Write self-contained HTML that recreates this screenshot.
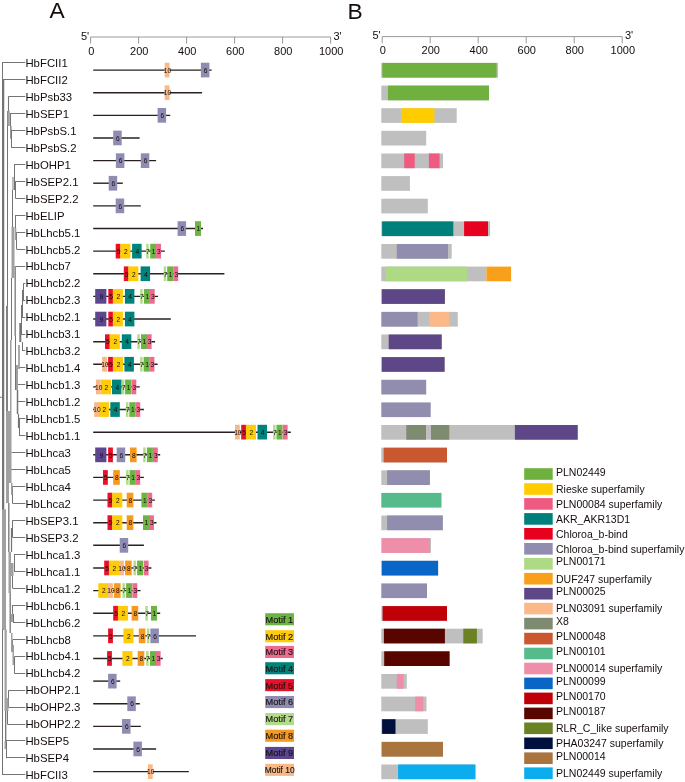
<!DOCTYPE html>
<html><head><meta charset="utf-8"><title>Figure</title>
<style>
html,body{margin:0;padding:0;background:#fff}
svg{display:block}
text{font-family:"Liberation Sans",Arial,sans-serif;fill:#150e0c}
.ax{font-size:11px}
.lb{font-size:11.8px}
.mn{font-size:7.5px;text-anchor:middle;fill:#120c0a}
.ml{font-size:9.2px;fill:#1a1311;stroke:#1a1311;stroke-width:.15px}
.dl{font-size:10.5px}
.pn{font-size:22.8px}
</style></head><body>
<svg width="685" height="782" viewBox="0 0 685 782">
<rect width="685" height="782" fill="#fff"/>
<text class="pn" x="49.5" y="18">A</text>
<text class="pn" x="347.6" y="18.6">B</text>
<g stroke="#999" stroke-width="1" fill="none"><path d="M90.6 37.0H330.6"/><path d="M90.6 37.0V43.7"/><path d="M138.6 37.0V43.7"/><path d="M186.6 37.0V43.7"/><path d="M234.6 37.0V43.7"/><path d="M282.6 37.0V43.7"/><path d="M330.6 37.0V43.7"/></g>
<text class="ax" text-anchor="middle" x="91.2" y="54.8">0</text><text class="ax" text-anchor="middle" x="139.2" y="54.8">200</text><text class="ax" text-anchor="middle" x="187.2" y="54.8">400</text><text class="ax" text-anchor="middle" x="235.2" y="54.8">600</text><text class="ax" text-anchor="middle" x="283.2" y="54.8">800</text><text class="ax" text-anchor="middle" x="331.2" y="54.8">1000</text>
<text class="ax" text-anchor="end" x="89.1" y="39.6">5'</text><text class="ax" x="333.4" y="39.6">3'</text>
<g stroke="#999" stroke-width="1" fill="none"><path d="M382.2 36.6H622.2"/><path d="M382.2 36.6V43.3"/><path d="M430.2 36.6V43.3"/><path d="M478.2 36.6V43.3"/><path d="M526.2 36.6V43.3"/><path d="M574.2 36.6V43.3"/><path d="M622.2 36.6V43.3"/></g>
<text class="ax" text-anchor="middle" x="382.8" y="54.4">0</text><text class="ax" text-anchor="middle" x="430.8" y="54.4">200</text><text class="ax" text-anchor="middle" x="478.8" y="54.4">400</text><text class="ax" text-anchor="middle" x="526.8" y="54.4">600</text><text class="ax" text-anchor="middle" x="574.8" y="54.4">800</text><text class="ax" text-anchor="middle" x="622.8" y="54.4">1000</text>
<text class="ax" text-anchor="end" x="380.7" y="39.2">5'</text><text class="ax" x="625.0" y="39.2">3'</text>
<g stroke="#747474" stroke-width="1" fill="none">
<path d="M2.0 62.5H25.3"/><path d="M3.0 79.5H25.3"/><path d="M8.5 96.5H25.3"/><path d="M10.0 113.5H25.3"/><path d="M11.2 130.5H25.3"/><path d="M11.2 147.5H25.3"/><path d="M14.3 164.5H25.3"/><path d="M15.3 181.5H25.3"/><path d="M15.3 198.5H25.3"/><path d="M15.3 215.5H25.3"/><path d="M16.5 232.5H25.3"/><path d="M16.5 249.5H25.3"/><path d="M15.0 266.5H25.3"/><path d="M23.3 283.5H25.3"/><path d="M22.8 300.5H25.3"/><path d="M21.8 317.5H25.3"/><path d="M21.5 334.5H25.3"/><path d="M22.5 350.5H25.3"/><path d="M19.5 367.5H25.3"/><path d="M18.0 384.5H25.3"/><path d="M18.0 401.5H25.3"/><path d="M19.0 418.5H25.3"/><path d="M19.5 435.5H25.3"/><path d="M11.5 452.5H25.3"/><path d="M11.0 469.5H25.3"/><path d="M12.5 486.5H25.3"/><path d="M12.5 503.5H25.3"/><path d="M12.5 520.5H25.3"/><path d="M12.5 537.5H25.3"/><path d="M14.0 554.5H25.3"/><path d="M14.0 571.5H25.3"/><path d="M12.5 588.5H25.3"/><path d="M12.0 605.5H25.3"/><path d="M13.0 622.5H25.3"/><path d="M12.5 639.5H25.3"/><path d="M14.5 656.5H25.3"/><path d="M14.5 673.5H25.3"/><path d="M8.5 690.5H25.3"/><path d="M8.5 707.5H25.3"/><path d="M7.5 724.5H25.3"/><path d="M6.0 740.5H25.3"/><path d="M6.0 757.5H25.3"/><path d="M2.0 774.5H25.3"/>
<path d="M2.5 62.7V774.9" stroke-width="1.0"/><path d="M3.6 79.5V630.0" stroke-width="1.3"/><path d="M8.5 96.3V112.0" stroke-width="1.1"/><path d="M7.5 111.0V306.0" stroke-width="1.0"/><path d="M7.0 306.0V411.0" stroke-width="1.8"/><path d="M10.5 113.5V126.0" stroke-width="1.0"/><path d="M10.9 126.0V138.7" stroke-width="1.3"/><path d="M11.5 130.0V147.4" stroke-width="1.0"/><path d="M14.5 164.2V190.0" stroke-width="1.0"/><path d="M15.5 181.4V198.0" stroke-width="1.0"/><path d="M12.5 190.0V227.0" stroke-width="1.0"/><path d="M15.5 215.0V228.0" stroke-width="1.0"/><path d="M16.5 232.1V249.1" stroke-width="1.0"/><path d="M11.5 278.0V340.0" stroke-width="1.0"/><path d="M15.5 266.0V390.0" stroke-width="1.0"/><path d="M23.5 283.3V300.1" stroke-width="1.0"/><path d="M22.5 290.0V317.0" stroke-width="1.0"/><path d="M21.5 305.0V335.0" stroke-width="1.0"/><path d="M20.3 323.0V342.0" stroke-width="2.0"/><path d="M22.5 342.0V351.0" stroke-width="1.0"/><path d="M19.0 345.0V369.0" stroke-width="1.2"/><path d="M17.5 390.0V414.0" stroke-width="1.5"/><path d="M18.5 414.0V428.0" stroke-width="1.2"/><path d="M19.5 419.0V436.0" stroke-width="1.0"/><path d="M12.5 486.4V503.2" stroke-width="1.0"/><path d="M12.5 520.4V537.5" stroke-width="1.0"/><path d="M11.5 528.0V552.0" stroke-width="1.2"/><path d="M8.8 503.0V552.0" stroke-width="1.3"/><path d="M14.5 554.8V571.2" stroke-width="1.0"/><path d="M12.5 576.0V588.1" stroke-width="1.0"/><path d="M10.2 593.0V633.0" stroke-width="1.3"/><path d="M12.5 605.3V622.0" stroke-width="1.0"/><path d="M13.5 614.0V622.5" stroke-width="1.0"/><path d="M12.5 639.7V652.0" stroke-width="1.0"/><path d="M14.5 656.5V673.6" stroke-width="1.0"/><path d="M2.5 629.0V700.0" stroke-width="1.0"/><path d="M5.7 629.4V749.0" stroke-width="1.3"/><path d="M8.5 690.4V707.4" stroke-width="1.0"/><path d="M7.5 711.0V724.3" stroke-width="1.0"/><path d="M6.5 741.2V758.2" stroke-width="1.0"/><path d="M0 397.3H1.8"/></g>
<g fill="#a0a0a0"><rect x="7.5" y="111.0" width="2.3" height="15.0"/><rect x="12.3" y="177.0" width="1.4" height="13.0"/><rect x="15.0" y="228.0" width="1.3" height="12.0"/><rect x="11.5" y="227.0" width="3.0" height="51.0"/><rect x="14.3" y="266.0" width="1.3" height="70.0"/><rect x="10.0" y="340.0" width="1.5" height="71.0"/><rect x="6.0" y="411.0" width="5.5" height="72.0"/><rect x="6.0" y="483.0" width="3.0" height="20.0"/><rect x="16.0" y="365.0" width="2.0" height="25.0"/><rect x="11.0" y="483.0" width="1.5" height="12.0"/><rect x="2.0" y="509.4" width="4.0" height="120.0"/><rect x="8.5" y="552.0" width="2.5" height="41.0"/><rect x="11.0" y="563.0" width="2.5" height="13.0"/><rect x="11.0" y="614.0" width="2.0" height="8.0"/><rect x="11.0" y="633.0" width="1.5" height="19.0"/><rect x="12.5" y="645.0" width="1.5" height="20.0"/><rect x="4.5" y="629.4" width="2.0" height="81.6"/><rect x="6.5" y="698.0" width="2.0" height="13.0"/><rect x="4.5" y="741.0" width="1.5" height="8.0"/></g>
<text class="lb" transform="translate(25.4 67.0) scale(.965 1)">HbFCII1</text><text class="lb" transform="translate(25.4 83.9) scale(.965 1)">HbFCII2</text><text class="lb" transform="translate(25.4 100.9) scale(.965 1)">HbPsb33</text><text class="lb" transform="translate(25.4 117.8) scale(.965 1)">HbSEP1</text><text class="lb" transform="translate(25.4 134.8) scale(.965 1)">HbPsbS.1</text><text class="lb" transform="translate(25.4 151.7) scale(.965 1)">HbPsbS.2</text><text class="lb" transform="translate(25.4 168.7) scale(.965 1)">HbOHP1</text><text class="lb" transform="translate(25.4 185.6) scale(.965 1)">HbSEP2.1</text><text class="lb" transform="translate(25.4 202.6) scale(.965 1)">HbSEP2.2</text><text class="lb" transform="translate(25.4 219.6) scale(.965 1)">HbELIP</text><text class="lb" transform="translate(25.4 236.5) scale(.965 1)">HbLhcb5.1</text><text class="lb" transform="translate(25.4 253.5) scale(.965 1)">HbLhcb5.2</text><text class="lb" transform="translate(25.4 270.4) scale(.965 1)">HbLhcb7</text><text class="lb" transform="translate(25.4 287.4) scale(.965 1)">HbLhcb2.2</text><text class="lb" transform="translate(25.4 304.3) scale(.965 1)">HbLhcb2.3</text><text class="lb" transform="translate(25.4 321.3) scale(.965 1)">HbLhcb2.1</text><text class="lb" transform="translate(25.4 338.3) scale(.965 1)">HbLhcb3.1</text><text class="lb" transform="translate(25.4 355.2) scale(.965 1)">HbLhcb3.2</text><text class="lb" transform="translate(25.4 372.2) scale(.965 1)">HbLhcb1.4</text><text class="lb" transform="translate(25.4 389.1) scale(.965 1)">HbLhcb1.3</text><text class="lb" transform="translate(25.4 406.1) scale(.965 1)">HbLhcb1.2</text><text class="lb" transform="translate(25.4 423.0) scale(.965 1)">HbLhcb1.5</text><text class="lb" transform="translate(25.4 440.0) scale(.965 1)">HbLhcb1.1</text><text class="lb" transform="translate(25.4 457.0) scale(.965 1)">HbLhca3</text><text class="lb" transform="translate(25.4 473.9) scale(.965 1)">HbLhca5</text><text class="lb" transform="translate(25.4 490.9) scale(.965 1)">HbLhca4</text><text class="lb" transform="translate(25.4 507.8) scale(.965 1)">HbLhca2</text><text class="lb" transform="translate(25.4 524.8) scale(.965 1)">HbSEP3.1</text><text class="lb" transform="translate(25.4 541.7) scale(.965 1)">HbSEP3.2</text><text class="lb" transform="translate(25.4 558.7) scale(.965 1)">HbLhca1.3</text><text class="lb" transform="translate(25.4 575.7) scale(.965 1)">HbLhca1.1</text><text class="lb" transform="translate(25.4 592.6) scale(.965 1)">HbLhca1.2</text><text class="lb" transform="translate(25.4 609.6) scale(.965 1)">HbLhcb6.1</text><text class="lb" transform="translate(25.4 626.5) scale(.965 1)">HbLhcb6.2</text><text class="lb" transform="translate(25.4 643.5) scale(.965 1)">HbLhcb8</text><text class="lb" transform="translate(25.4 660.4) scale(.965 1)">HbLhcb4.1</text><text class="lb" transform="translate(25.4 677.4) scale(.965 1)">HbLhcb4.2</text><text class="lb" transform="translate(25.4 694.4) scale(.965 1)">HbOHP2.1</text><text class="lb" transform="translate(25.4 711.3) scale(.965 1)">HbOHP2.3</text><text class="lb" transform="translate(25.4 728.3) scale(.965 1)">HbOHP2.2</text><text class="lb" transform="translate(25.4 745.2) scale(.965 1)">HbSEP5</text><text class="lb" transform="translate(25.4 762.2) scale(.965 1)">HbSEP4</text><text class="lb" transform="translate(25.4 779.1) scale(.965 1)">HbFCII3</text>
<path d="M93.2 70.1H211.7" stroke="#2a2020" stroke-width="1.4"/><rect x="164.7" y="62.7" width="4.8" height="14.7" fill="#f9b888"/><rect x="200.9" y="62.7" width="8.5" height="14.7" fill="#8f8cb4"/><text class="mn" transform="translate(167.5 72.8) scale(.88 1)">10</text><text class="mn" transform="translate(205.6 72.8) scale(.88 1)">6</text>
<path d="M93.2 92.7H202.1" stroke="#2a2020" stroke-width="1.4"/><rect x="164.7" y="85.4" width="4.8" height="14.7" fill="#f9b888"/><text class="mn" transform="translate(167.5 95.4) scale(.88 1)">10</text>
<path d="M93.2 115.4H170.2" stroke="#2a2020" stroke-width="1.4"/><rect x="157.6" y="108.0" width="8.5" height="14.7" fill="#8f8cb4"/><text class="mn" transform="translate(162.2 118.1) scale(.88 1)">6</text>
<path d="M93.2 138.0H139.6" stroke="#2a2020" stroke-width="1.4"/><rect x="113.2" y="130.6" width="8.5" height="14.7" fill="#8f8cb4"/><text class="mn" transform="translate(117.9 140.7) scale(.88 1)">6</text>
<path d="M93.2 160.6H156.1" stroke="#2a2020" stroke-width="1.4"/><rect x="115.9" y="153.3" width="8.5" height="14.7" fill="#8f8cb4"/><rect x="140.8" y="153.3" width="8.5" height="14.7" fill="#8f8cb4"/><text class="mn" transform="translate(120.6 163.3) scale(.88 1)">6</text><text class="mn" transform="translate(145.5 163.3) scale(.88 1)">6</text>
<path d="M93.2 183.2H122.8" stroke="#2a2020" stroke-width="1.4"/><rect x="108.7" y="175.9" width="8.5" height="14.7" fill="#8f8cb4"/><text class="mn" transform="translate(113.4 185.9) scale(.88 1)">6</text>
<path d="M93.2 205.9H140.8" stroke="#2a2020" stroke-width="1.4"/><rect x="115.7" y="198.5" width="8.5" height="14.7" fill="#8f8cb4"/><text class="mn" transform="translate(120.4 208.6) scale(.88 1)">6</text>
<path d="M93.2 228.5H203.1" stroke="#2a2020" stroke-width="1.4"/><rect x="177.6" y="221.2" width="8.5" height="14.7" fill="#8f8cb4"/><rect x="195.0" y="221.2" width="6.0" height="14.7" fill="#6cb545"/><text class="mn" transform="translate(182.2 231.2) scale(.88 1)">6</text><text class="mn" transform="translate(198.4 231.2) scale(.88 1)">1</text>
<path d="M93.2 251.1H164.8" stroke="#2a2020" stroke-width="1.4"/><rect x="115.7" y="243.8" width="4.8" height="14.7" fill="#e8102a"/><rect x="120.3" y="243.8" width="10.1" height="14.7" fill="#ffcc0a"/><rect x="132.1" y="243.8" width="9.5" height="14.7" fill="#00837b"/><rect x="146.2" y="243.8" width="2.5" height="14.7" fill="#b2dc8c"/><rect x="150.2" y="243.8" width="6.0" height="14.7" fill="#6cb545"/><rect x="156.1" y="243.8" width="4.9" height="14.7" fill="#ee6a8f"/><text class="mn" transform="translate(118.5 253.8) scale(.88 1)">5</text><text class="mn" transform="translate(125.8 253.8) scale(.88 1)">2</text><text class="mn" transform="translate(137.2 253.8) scale(.88 1)">4</text><text class="mn" transform="translate(147.8 253.8) scale(.88 1)">7</text><text class="mn" transform="translate(153.6 253.8) scale(.88 1)">1</text><text class="mn" transform="translate(158.9 253.8) scale(.88 1)">3</text>
<path d="M93.2 273.8H224.4" stroke="#2a2020" stroke-width="1.4"/><rect x="123.8" y="266.4" width="4.8" height="14.7" fill="#e8102a"/><rect x="128.3" y="266.4" width="10.1" height="14.7" fill="#ffcc0a"/><rect x="140.6" y="266.4" width="9.5" height="14.7" fill="#00837b"/><rect x="163.7" y="266.4" width="2.5" height="14.7" fill="#b2dc8c"/><rect x="167.2" y="266.4" width="6.0" height="14.7" fill="#6cb545"/><rect x="173.3" y="266.4" width="4.9" height="14.7" fill="#ee6a8f"/><text class="mn" transform="translate(126.6 276.5) scale(.88 1)">5</text><text class="mn" transform="translate(133.8 276.5) scale(.88 1)">2</text><text class="mn" transform="translate(145.8 276.5) scale(.88 1)">4</text><text class="mn" transform="translate(165.3 276.5) scale(.88 1)">7</text><text class="mn" transform="translate(170.6 276.5) scale(.88 1)">1</text><text class="mn" transform="translate(176.2 276.5) scale(.88 1)">3</text>
<path d="M93.2 296.4H158.0" stroke="#2a2020" stroke-width="1.4"/><rect x="95.2" y="289.0" width="11.2" height="14.7" fill="#5c4690"/><rect x="108.3" y="289.0" width="4.8" height="14.7" fill="#e8102a"/><rect x="112.8" y="289.0" width="10.1" height="14.7" fill="#ffcc0a"/><rect x="124.9" y="289.0" width="9.5" height="14.7" fill="#00837b"/><rect x="140.2" y="289.0" width="2.5" height="14.7" fill="#b2dc8c"/><rect x="143.9" y="289.0" width="6.0" height="14.7" fill="#6cb545"/><rect x="149.8" y="289.0" width="4.9" height="14.7" fill="#ee6a8f"/><text class="mn" transform="translate(101.2 299.1) scale(.88 1)">9</text><text class="mn" transform="translate(111.1 299.1) scale(.88 1)">5</text><text class="mn" transform="translate(118.2 299.1) scale(.88 1)">2</text><text class="mn" transform="translate(130.1 299.1) scale(.88 1)">4</text><text class="mn" transform="translate(141.8 299.1) scale(.88 1)">7</text><text class="mn" transform="translate(147.3 299.1) scale(.88 1)">1</text><text class="mn" transform="translate(152.7 299.1) scale(.88 1)">3</text>
<path d="M93.2 319.0H170.8" stroke="#2a2020" stroke-width="1.4"/><rect x="95.2" y="311.7" width="11.2" height="14.7" fill="#5c4690"/><rect x="108.3" y="311.7" width="4.8" height="14.7" fill="#e8102a"/><rect x="112.8" y="311.7" width="10.1" height="14.7" fill="#ffcc0a"/><rect x="124.9" y="311.7" width="9.5" height="14.7" fill="#00837b"/><text class="mn" transform="translate(101.2 321.7) scale(.88 1)">9</text><text class="mn" transform="translate(111.1 321.7) scale(.88 1)">5</text><text class="mn" transform="translate(118.2 321.7) scale(.88 1)">2</text><text class="mn" transform="translate(130.1 321.7) scale(.88 1)">4</text>
<path d="M93.2 341.7H155.1" stroke="#2a2020" stroke-width="1.4"/><rect x="105.0" y="334.3" width="4.8" height="14.7" fill="#e8102a"/><rect x="109.7" y="334.3" width="10.1" height="14.7" fill="#ffcc0a"/><rect x="121.8" y="334.3" width="9.5" height="14.7" fill="#00837b"/><rect x="137.3" y="334.3" width="2.5" height="14.7" fill="#b2dc8c"/><rect x="141.0" y="334.3" width="6.0" height="14.7" fill="#6cb545"/><rect x="146.7" y="334.3" width="4.9" height="14.7" fill="#ee6a8f"/><text class="mn" transform="translate(107.8 344.4) scale(.88 1)">5</text><text class="mn" transform="translate(115.2 344.4) scale(.88 1)">2</text><text class="mn" transform="translate(127.0 344.4) scale(.88 1)">4</text><text class="mn" transform="translate(139.0 344.4) scale(.88 1)">7</text><text class="mn" transform="translate(144.4 344.4) scale(.88 1)">1</text><text class="mn" transform="translate(149.5 344.4) scale(.88 1)">3</text>
<path d="M93.2 364.3H157.6" stroke="#2a2020" stroke-width="1.4"/><rect x="102.1" y="356.9" width="4.8" height="14.7" fill="#f9b888"/><rect x="108.1" y="356.9" width="4.8" height="14.7" fill="#e8102a"/><rect x="113.0" y="356.9" width="10.1" height="14.7" fill="#ffcc0a"/><rect x="124.4" y="356.9" width="9.5" height="14.7" fill="#00837b"/><rect x="140.1" y="356.9" width="2.5" height="14.7" fill="#b2dc8c"/><rect x="143.6" y="356.9" width="6.0" height="14.7" fill="#6cb545"/><rect x="149.5" y="356.9" width="4.9" height="14.7" fill="#ee6a8f"/><text class="mn" transform="translate(104.9 367.0) scale(.88 1)">10</text><text class="mn" transform="translate(110.9 367.0) scale(.88 1)">5</text><text class="mn" transform="translate(118.5 367.0) scale(.88 1)">2</text><text class="mn" transform="translate(129.6 367.0) scale(.88 1)">4</text><text class="mn" transform="translate(141.8 367.0) scale(.88 1)">7</text><text class="mn" transform="translate(147.0 367.0) scale(.88 1)">1</text><text class="mn" transform="translate(152.3 367.0) scale(.88 1)">3</text>
<path d="M93.2 386.9H139.8" stroke="#2a2020" stroke-width="1.4"/><rect x="95.9" y="379.6" width="4.8" height="14.7" fill="#f9b888"/><rect x="100.9" y="379.6" width="10.1" height="14.7" fill="#ffcc0a"/><rect x="112.0" y="379.6" width="9.5" height="14.7" fill="#00837b"/><rect x="121.9" y="379.6" width="2.5" height="14.7" fill="#b2dc8c"/><rect x="125.1" y="379.6" width="6.0" height="14.7" fill="#6cb545"/><rect x="131.4" y="379.6" width="4.9" height="14.7" fill="#ee6a8f"/><text class="mn" transform="translate(98.7 389.6) scale(.88 1)">10</text><text class="mn" transform="translate(106.4 389.6) scale(.88 1)">2</text><text class="mn" transform="translate(117.2 389.6) scale(.88 1)">4</text><text class="mn" transform="translate(123.6 389.6) scale(.88 1)">7</text><text class="mn" transform="translate(128.5 389.6) scale(.88 1)">1</text><text class="mn" transform="translate(134.2 389.6) scale(.88 1)">3</text>
<path d="M93.2 409.5H143.9" stroke="#2a2020" stroke-width="1.4"/><rect x="94.2" y="402.2" width="4.8" height="14.7" fill="#f9b888"/><rect x="98.9" y="402.2" width="10.1" height="14.7" fill="#ffcc0a"/><rect x="110.3" y="402.2" width="9.5" height="14.7" fill="#00837b"/><rect x="125.9" y="402.2" width="2.5" height="14.7" fill="#b2dc8c"/><rect x="129.3" y="402.2" width="6.0" height="14.7" fill="#6cb545"/><rect x="135.3" y="402.2" width="4.9" height="14.7" fill="#ee6a8f"/><text class="mn" transform="translate(97.0 412.2) scale(.88 1)">10</text><text class="mn" transform="translate(104.4 412.2) scale(.88 1)">2</text><text class="mn" transform="translate(115.5 412.2) scale(.88 1)">4</text><text class="mn" transform="translate(127.6 412.2) scale(.88 1)">7</text><text class="mn" transform="translate(132.7 412.2) scale(.88 1)">1</text><text class="mn" transform="translate(138.2 412.2) scale(.88 1)">3</text>
<path d="M93.2 432.2H290.8" stroke="#2a2020" stroke-width="1.4"/><rect x="235.0" y="424.8" width="4.8" height="14.7" fill="#f9b888"/><rect x="241.2" y="424.8" width="4.8" height="14.7" fill="#e8102a"/><rect x="245.9" y="424.8" width="10.1" height="14.7" fill="#ffcc0a"/><rect x="257.5" y="424.8" width="9.5" height="14.7" fill="#00837b"/><rect x="273.1" y="424.8" width="2.5" height="14.7" fill="#b2dc8c"/><rect x="276.5" y="424.8" width="6.0" height="14.7" fill="#6cb545"/><rect x="282.7" y="424.8" width="4.9" height="14.7" fill="#ee6a8f"/><text class="mn" transform="translate(237.8 434.9) scale(.88 1)">10</text><text class="mn" transform="translate(244.0 434.9) scale(.88 1)">5</text><text class="mn" transform="translate(251.4 434.9) scale(.88 1)">2</text><text class="mn" transform="translate(262.6 434.9) scale(.88 1)">4</text><text class="mn" transform="translate(274.8 434.9) scale(.88 1)">7</text><text class="mn" transform="translate(279.9 434.9) scale(.88 1)">1</text><text class="mn" transform="translate(285.5 434.9) scale(.88 1)">3</text>
<path d="M93.2 454.8H160.2" stroke="#2a2020" stroke-width="1.4"/><rect x="95.2" y="447.5" width="11.2" height="14.7" fill="#5c4690"/><rect x="108.1" y="447.5" width="4.8" height="14.7" fill="#e8102a"/><rect x="116.7" y="447.5" width="8.5" height="14.7" fill="#8f8cb4"/><rect x="130.0" y="447.5" width="6.6" height="14.7" fill="#f7981f"/><rect x="143.2" y="447.5" width="2.5" height="14.7" fill="#b2dc8c"/><rect x="146.9" y="447.5" width="6.0" height="14.7" fill="#6cb545"/><rect x="152.9" y="447.5" width="4.9" height="14.7" fill="#ee6a8f"/><text class="mn" transform="translate(101.2 457.5) scale(.88 1)">9</text><text class="mn" transform="translate(110.9 457.5) scale(.88 1)">5</text><text class="mn" transform="translate(121.4 457.5) scale(.88 1)">6</text><text class="mn" transform="translate(133.7 457.5) scale(.88 1)">8</text><text class="mn" transform="translate(144.8 457.5) scale(.88 1)">7</text><text class="mn" transform="translate(150.3 457.5) scale(.88 1)">1</text><text class="mn" transform="translate(155.8 457.5) scale(.88 1)">3</text>
<path d="M93.2 477.4H143.9" stroke="#2a2020" stroke-width="1.4"/><rect x="103.0" y="470.1" width="4.8" height="14.7" fill="#e8102a"/><rect x="113.2" y="470.1" width="6.6" height="14.7" fill="#f7981f"/><rect x="126.1" y="470.1" width="2.5" height="14.7" fill="#b2dc8c"/><rect x="129.6" y="470.1" width="6.0" height="14.7" fill="#6cb545"/><rect x="135.3" y="470.1" width="4.9" height="14.7" fill="#ee6a8f"/><text class="mn" transform="translate(105.8 480.1) scale(.88 1)">5</text><text class="mn" transform="translate(116.9 480.1) scale(.88 1)">8</text><text class="mn" transform="translate(127.8 480.1) scale(.88 1)">7</text><text class="mn" transform="translate(133.0 480.1) scale(.88 1)">1</text><text class="mn" transform="translate(138.2 480.1) scale(.88 1)">3</text>
<path d="M93.2 500.1H154.9" stroke="#2a2020" stroke-width="1.4"/><rect x="107.5" y="492.7" width="4.8" height="14.7" fill="#e8102a"/><rect x="112.2" y="492.7" width="10.1" height="14.7" fill="#ffcc0a"/><rect x="126.7" y="492.7" width="6.6" height="14.7" fill="#f7981f"/><rect x="141.4" y="492.7" width="6.0" height="14.7" fill="#6cb545"/><rect x="147.3" y="492.7" width="4.9" height="14.7" fill="#ee6a8f"/><text class="mn" transform="translate(110.3 502.8) scale(.88 1)">5</text><text class="mn" transform="translate(117.7 502.8) scale(.88 1)">2</text><text class="mn" transform="translate(130.4 502.8) scale(.88 1)">8</text><text class="mn" transform="translate(144.8 502.8) scale(.88 1)">1</text><text class="mn" transform="translate(150.2 502.8) scale(.88 1)">3</text>
<path d="M93.2 522.7H156.5" stroke="#2a2020" stroke-width="1.4"/><rect x="107.5" y="515.3" width="4.8" height="14.7" fill="#e8102a"/><rect x="112.2" y="515.3" width="10.1" height="14.7" fill="#ffcc0a"/><rect x="126.7" y="515.3" width="6.6" height="14.7" fill="#f7981f"/><rect x="143.0" y="515.3" width="6.0" height="14.7" fill="#6cb545"/><rect x="149.0" y="515.3" width="4.9" height="14.7" fill="#ee6a8f"/><text class="mn" transform="translate(110.3 525.4) scale(.88 1)">5</text><text class="mn" transform="translate(117.7 525.4) scale(.88 1)">2</text><text class="mn" transform="translate(130.4 525.4) scale(.88 1)">8</text><text class="mn" transform="translate(146.4 525.4) scale(.88 1)">1</text><text class="mn" transform="translate(151.8 525.4) scale(.88 1)">3</text>
<path d="M93.2 545.3H143.9" stroke="#2a2020" stroke-width="1.4"/><rect x="119.7" y="538.0" width="8.5" height="14.7" fill="#8f8cb4"/><text class="mn" transform="translate(124.4 548.0) scale(.88 1)">6</text>
<path d="M93.2 568.0H151.4" stroke="#2a2020" stroke-width="1.4"/><rect x="104.2" y="560.6" width="4.8" height="14.7" fill="#e8102a"/><rect x="108.9" y="560.6" width="10.1" height="14.7" fill="#ffcc0a"/><rect x="119.1" y="560.6" width="4.8" height="14.7" fill="#f9b888"/><rect x="125.1" y="560.6" width="6.6" height="14.7" fill="#f7981f"/><rect x="133.4" y="560.6" width="2.5" height="14.7" fill="#b2dc8c"/><rect x="137.1" y="560.6" width="6.0" height="14.7" fill="#6cb545"/><rect x="143.7" y="560.6" width="4.9" height="14.7" fill="#ee6a8f"/><text class="mn" transform="translate(107.0 570.7) scale(.88 1)">5</text><text class="mn" transform="translate(114.4 570.7) scale(.88 1)">2</text><text class="mn" transform="translate(121.9 570.7) scale(.88 1)">10</text><text class="mn" transform="translate(128.8 570.7) scale(.88 1)">8</text><text class="mn" transform="translate(135.1 570.7) scale(.88 1)">7</text><text class="mn" transform="translate(140.5 570.7) scale(.88 1)">1</text><text class="mn" transform="translate(146.5 570.7) scale(.88 1)">3</text>
<path d="M93.2 590.6H140.6" stroke="#2a2020" stroke-width="1.4"/><rect x="98.3" y="583.2" width="10.1" height="14.7" fill="#ffcc0a"/><rect x="108.1" y="583.2" width="4.8" height="14.7" fill="#f9b888"/><rect x="114.0" y="583.2" width="6.6" height="14.7" fill="#f7981f"/><rect x="122.4" y="583.2" width="2.5" height="14.7" fill="#b2dc8c"/><rect x="126.1" y="583.2" width="6.0" height="14.7" fill="#6cb545"/><rect x="132.4" y="583.2" width="4.9" height="14.7" fill="#ee6a8f"/><text class="mn" transform="translate(103.8 593.3) scale(.88 1)">2</text><text class="mn" transform="translate(110.9 593.3) scale(.88 1)">10</text><text class="mn" transform="translate(117.7 593.3) scale(.88 1)">8</text><text class="mn" transform="translate(124.1 593.3) scale(.88 1)">7</text><text class="mn" transform="translate(129.5 593.3) scale(.88 1)">1</text><text class="mn" transform="translate(135.2 593.3) scale(.88 1)">3</text>
<path d="M93.2 613.2H160.2" stroke="#2a2020" stroke-width="1.4"/><rect x="113.2" y="605.9" width="4.8" height="14.7" fill="#e8102a"/><rect x="117.9" y="605.9" width="10.1" height="14.7" fill="#ffcc0a"/><rect x="131.6" y="605.9" width="6.6" height="14.7" fill="#f7981f"/><rect x="145.3" y="605.9" width="2.5" height="14.7" fill="#b2dc8c"/><rect x="151.0" y="605.9" width="6.0" height="14.7" fill="#6cb545"/><text class="mn" transform="translate(116.0 615.9) scale(.88 1)">5</text><text class="mn" transform="translate(123.4 615.9) scale(.88 1)">2</text><text class="mn" transform="translate(135.3 615.9) scale(.88 1)">8</text><text class="mn" transform="translate(147.0 615.9) scale(.88 1)">7</text><text class="mn" transform="translate(154.4 615.9) scale(.88 1)">1</text>
<path d="M93.2 635.9H196.0" stroke="#2a2020" stroke-width="1.4"/><rect x="108.1" y="628.5" width="4.8" height="14.7" fill="#e8102a"/><rect x="123.4" y="628.5" width="10.1" height="14.7" fill="#ffcc0a"/><rect x="138.8" y="628.5" width="6.6" height="14.7" fill="#f7981f"/><rect x="146.9" y="628.5" width="2.5" height="14.7" fill="#b2dc8c"/><rect x="150.4" y="628.5" width="8.5" height="14.7" fill="#8f8cb4"/><text class="mn" transform="translate(110.9 638.6) scale(.88 1)">5</text><text class="mn" transform="translate(128.9 638.6) scale(.88 1)">2</text><text class="mn" transform="translate(142.5 638.6) scale(.88 1)">8</text><text class="mn" transform="translate(148.6 638.6) scale(.88 1)">7</text><text class="mn" transform="translate(155.1 638.6) scale(.88 1)">6</text>
<path d="M93.2 658.5H162.7" stroke="#2a2020" stroke-width="1.4"/><rect x="107.1" y="651.1" width="4.8" height="14.7" fill="#e8102a"/><rect x="122.4" y="651.1" width="10.1" height="14.7" fill="#ffcc0a"/><rect x="137.7" y="651.1" width="6.6" height="14.7" fill="#f7981f"/><rect x="146.1" y="651.1" width="2.5" height="14.7" fill="#b2dc8c"/><rect x="150.0" y="651.1" width="6.0" height="14.7" fill="#6cb545"/><rect x="155.7" y="651.1" width="4.9" height="14.7" fill="#ee6a8f"/><text class="mn" transform="translate(109.9 661.2) scale(.88 1)">5</text><text class="mn" transform="translate(127.9 661.2) scale(.88 1)">2</text><text class="mn" transform="translate(141.4 661.2) scale(.88 1)">8</text><text class="mn" transform="translate(147.8 661.2) scale(.88 1)">7</text><text class="mn" transform="translate(153.4 661.2) scale(.88 1)">1</text><text class="mn" transform="translate(158.5 661.2) scale(.88 1)">3</text>
<path d="M93.2 681.1H120.2" stroke="#2a2020" stroke-width="1.4"/><rect x="108.1" y="673.8" width="8.5" height="14.7" fill="#8f8cb4"/><text class="mn" transform="translate(112.8 683.8) scale(.88 1)">6</text>
<path d="M93.2 703.7H139.8" stroke="#2a2020" stroke-width="1.4"/><rect x="127.3" y="696.4" width="8.5" height="14.7" fill="#8f8cb4"/><text class="mn" transform="translate(132.0 706.4) scale(.88 1)">6</text>
<path d="M93.2 726.4H140.8" stroke="#2a2020" stroke-width="1.4"/><rect x="122.0" y="719.0" width="8.5" height="14.7" fill="#8f8cb4"/><text class="mn" transform="translate(126.7 729.1) scale(.88 1)">6</text>
<path d="M93.2 749.0H156.1" stroke="#2a2020" stroke-width="1.4"/><rect x="133.4" y="741.6" width="8.5" height="14.7" fill="#8f8cb4"/><text class="mn" transform="translate(138.1 751.7) scale(.88 1)">6</text>
<path d="M93.2 771.6H188.8" stroke="#2a2020" stroke-width="1.4"/><rect x="147.9" y="764.3" width="4.8" height="14.7" fill="#f9b888"/><text class="mn" transform="translate(150.7 774.3) scale(.88 1)">10</text>
<rect x="265.2" y="613.2" width="28.8" height="12.1" fill="#6cb545"/><text class="ml" x="265.6" y="622.6">Motif 1</text>
<rect x="265.2" y="630.2" width="28.8" height="12.1" fill="#ffcc0a"/><text class="ml" x="265.6" y="639.6">Motif 2</text>
<rect x="265.2" y="645.9" width="28.8" height="12.1" fill="#ee6a8f"/><text class="ml" x="265.6" y="655.3">Motif 3</text>
<rect x="265.2" y="662.2" width="28.8" height="12.1" fill="#00837b"/><text class="ml" x="265.6" y="671.6">Motif 4</text>
<rect x="265.2" y="679.1" width="28.8" height="12.1" fill="#e8102a"/><text class="ml" x="265.6" y="688.5">Motif 5</text>
<rect x="265.2" y="696.0" width="28.8" height="12.1" fill="#8f8cb4"/><text class="ml" x="265.6" y="705.4">Motif 6</text>
<rect x="265.2" y="713.0" width="28.8" height="12.1" fill="#b2dc8c"/><text class="ml" x="265.6" y="722.4">Motif 7</text>
<rect x="265.2" y="729.7" width="28.8" height="12.1" fill="#f7981f"/><text class="ml" x="265.6" y="739.1">Motif 8</text>
<rect x="265.2" y="746.9" width="28.8" height="12.1" fill="#5c4690"/><text class="ml" x="265.6" y="756.3">Motif 9</text>
<rect x="265.2" y="763.8" width="28.8" height="12.1" fill="#f9b888"/><text class="ml" x="264.8" y="773.2" textLength="29.8" lengthAdjust="spacingAndGlyphs">Motif 10</text>
<rect x="381.3" y="62.9" width="116.7" height="14.7" fill="#bfbfbf"/><rect x="382.3" y="62.9" width="114.3" height="14.7" fill="#6fb03f"/>
<rect x="381.3" y="85.6" width="107.7" height="14.7" fill="#bfbfbf"/><rect x="387.9" y="85.6" width="101.1" height="14.7" fill="#6fb03f"/>
<rect x="381.3" y="108.2" width="75.4" height="14.7" fill="#bfbfbf"/><rect x="401.0" y="108.2" width="33.4" height="14.7" fill="#ffcc00"/>
<rect x="381.3" y="130.8" width="44.9" height="14.7" fill="#bfbfbf"/>
<rect x="381.3" y="153.5" width="61.7" height="14.7" fill="#bfbfbf"/><rect x="404.2" y="153.5" width="10.5" height="14.7" fill="#ee5a80"/><rect x="428.9" y="153.5" width="10.7" height="14.7" fill="#ee5a80"/>
<rect x="381.3" y="176.1" width="28.6" height="14.7" fill="#bfbfbf"/>
<rect x="381.3" y="198.7" width="46.5" height="14.7" fill="#bfbfbf"/>
<rect x="381.3" y="221.4" width="108.8" height="14.7" fill="#bfbfbf"/><rect x="382.1" y="221.4" width="71.2" height="14.7" fill="#00807a"/><rect x="464.1" y="221.4" width="23.9" height="14.7" fill="#e8001f"/>
<rect x="381.3" y="244.0" width="70.4" height="14.7" fill="#bfbfbf"/><rect x="396.8" y="244.0" width="51.2" height="14.7" fill="#918dae"/>
<rect x="381.3" y="266.6" width="105.1" height="14.7" fill="#bfbfbf"/><rect x="385.8" y="266.6" width="81.4" height="14.7" fill="#aed985"/><rect x="486.4" y="266.6" width="24.7" height="14.7" fill="#f9a01b"/>
<rect x="381.3" y="289.2" width="63.6" height="14.7" fill="#bfbfbf"/><rect x="381.8" y="289.2" width="63.1" height="14.7" fill="#5e4787"/>
<rect x="381.3" y="311.9" width="76.5" height="14.7" fill="#bfbfbf"/><rect x="381.5" y="311.9" width="36.1" height="14.7" fill="#918dae"/><rect x="429.1" y="311.9" width="20.2" height="14.7" fill="#fbb98a"/>
<rect x="381.3" y="334.5" width="60.4" height="14.7" fill="#bfbfbf"/><rect x="388.7" y="334.5" width="53.0" height="14.7" fill="#5e4787"/>
<rect x="381.3" y="357.1" width="63.3" height="14.7" fill="#bfbfbf"/><rect x="381.8" y="357.1" width="62.8" height="14.7" fill="#5e4787"/>
<rect x="381.3" y="379.8" width="44.9" height="14.7" fill="#918dae"/>
<rect x="381.3" y="402.4" width="49.4" height="14.7" fill="#918dae"/>
<rect x="381.3" y="425.0" width="196.4" height="14.7" fill="#bfbfbf"/><rect x="406.3" y="425.0" width="19.7" height="14.7" fill="#7f8b70"/><rect x="431.0" y="425.0" width="18.3" height="14.7" fill="#7f8b70"/><rect x="514.9" y="425.0" width="62.8" height="14.7" fill="#5e4787"/>
<rect x="381.3" y="447.7" width="65.7" height="14.7" fill="#bfbfbf"/><rect x="383.7" y="447.7" width="63.3" height="14.7" fill="#cb5730"/>
<rect x="381.3" y="470.3" width="48.6" height="14.7" fill="#bfbfbf"/><rect x="387.1" y="470.3" width="42.8" height="14.7" fill="#918dae"/>
<rect x="381.3" y="492.9" width="60.2" height="14.7" fill="#56bb8b"/>
<rect x="381.3" y="515.5" width="61.5" height="14.7" fill="#bfbfbf"/><rect x="387.1" y="515.5" width="55.7" height="14.7" fill="#918dae"/>
<rect x="381.3" y="538.2" width="49.7" height="14.7" fill="#bfbfbf"/><rect x="381.8" y="538.2" width="48.1" height="14.7" fill="#ee8ea9"/>
<rect x="381.3" y="560.8" width="56.8" height="14.7" fill="#bfbfbf"/><rect x="381.8" y="560.8" width="56.3" height="14.7" fill="#0a66c6"/>
<rect x="381.3" y="583.4" width="45.7" height="14.7" fill="#918dae"/>
<rect x="381.3" y="606.1" width="65.7" height="14.7" fill="#bfbfbf"/><rect x="382.6" y="606.1" width="64.4" height="14.7" fill="#c00008"/>
<rect x="381.3" y="628.7" width="101.4" height="14.7" fill="#bfbfbf"/><rect x="383.9" y="628.7" width="61.0" height="14.7" fill="#580500"/><rect x="463.3" y="628.7" width="13.6" height="14.7" fill="#6a8224"/>
<rect x="381.3" y="651.3" width="68.3" height="14.7" fill="#bfbfbf"/><rect x="384.2" y="651.3" width="65.4" height="14.7" fill="#580500"/>
<rect x="381.3" y="674.0" width="25.5" height="14.7" fill="#bfbfbf"/><rect x="396.8" y="674.0" width="6.8" height="14.7" fill="#ee8ea9"/>
<rect x="381.3" y="696.6" width="45.2" height="14.7" fill="#bfbfbf"/><rect x="415.2" y="696.6" width="8.1" height="14.7" fill="#ee8ea9"/>
<rect x="381.3" y="719.2" width="46.5" height="14.7" fill="#bfbfbf"/><rect x="382.1" y="719.2" width="13.4" height="14.7" fill="#00103e"/>
<rect x="381.3" y="741.9" width="61.7" height="14.7" fill="#bfbfbf"/><rect x="381.8" y="741.9" width="61.2" height="14.7" fill="#a9743e"/>
<rect x="381.3" y="764.5" width="94.1" height="14.7" fill="#bfbfbf"/><rect x="398.1" y="764.5" width="77.3" height="14.7" fill="#0badef"/>
<rect x="524.2" y="468.2" width="28.5" height="11.6" fill="#6fb03f"/><text class="dl" x="556" y="475.5">PLN02449</text>
<rect x="524.2" y="483.2" width="28.5" height="11.6" fill="#ffcc00"/><text class="dl" x="556" y="492.8">Rieske superfamily</text>
<rect x="524.2" y="498.1" width="28.5" height="11.6" fill="#ee5a80"/><text class="dl" x="556" y="507.7">PLN00084 superfamily</text>
<rect x="524.2" y="513.1" width="28.5" height="11.6" fill="#00807a"/><text class="dl" x="556" y="522.7">AKR_AKR13D1</text>
<rect x="524.2" y="528.0" width="28.5" height="11.6" fill="#e8001f"/><text class="dl" x="556" y="537.6">Chloroa_b-bind</text>
<rect x="524.2" y="543.0" width="28.5" height="11.6" fill="#918dae"/><text class="dl" x="556" y="552.6">Chloroa_b-bind superfamily</text>
<rect x="524.2" y="558.0" width="28.5" height="11.6" fill="#aed985"/><text class="dl" x="556" y="565.3">PLN00171</text>
<rect x="524.2" y="572.9" width="28.5" height="11.6" fill="#f9a01b"/><text class="dl" x="556" y="582.5">DUF247 superfamily</text>
<rect x="524.2" y="587.9" width="28.5" height="11.6" fill="#5e4787"/><text class="dl" x="556" y="595.2">PLN00025</text>
<rect x="524.2" y="602.8" width="28.5" height="11.6" fill="#fbb98a"/><text class="dl" x="556" y="612.4">PLN03091 superfamily</text>
<rect x="524.2" y="617.8" width="28.5" height="11.6" fill="#7f8b70"/><text class="dl" x="556" y="625.1">X8</text>
<rect x="524.2" y="632.8" width="28.5" height="11.6" fill="#cb5730"/><text class="dl" x="556" y="640.1">PLN00048</text>
<rect x="524.2" y="647.7" width="28.5" height="11.6" fill="#56bb8b"/><text class="dl" x="556" y="655.0">PLN00101</text>
<rect x="524.2" y="662.7" width="28.5" height="11.6" fill="#ee8ea9"/><text class="dl" x="556" y="672.3">PLN00014 superfamily</text>
<rect x="524.2" y="677.6" width="28.5" height="11.6" fill="#0a66c6"/><text class="dl" x="556" y="684.9">PLN00099</text>
<rect x="524.2" y="692.6" width="28.5" height="11.6" fill="#c00008"/><text class="dl" x="556" y="699.9">PLN00170</text>
<rect x="524.2" y="707.6" width="28.5" height="11.6" fill="#580500"/><text class="dl" x="556" y="714.9">PLN00187</text>
<rect x="524.2" y="722.5" width="28.5" height="11.6" fill="#6a8224"/><text class="dl" x="556" y="732.1">RLR_C_like superfamily</text>
<rect x="524.2" y="737.5" width="28.5" height="11.6" fill="#00103e"/><text class="dl" x="556" y="747.1">PHA03247 superfamily</text>
<rect x="524.2" y="752.4" width="28.5" height="11.6" fill="#a9743e"/><text class="dl" x="556" y="759.7">PLN00014</text>
<rect x="524.2" y="767.4" width="28.5" height="11.6" fill="#0badef"/><text class="dl" x="556" y="777.0">PLN02449 superfamily</text>
</svg>
</body></html>
